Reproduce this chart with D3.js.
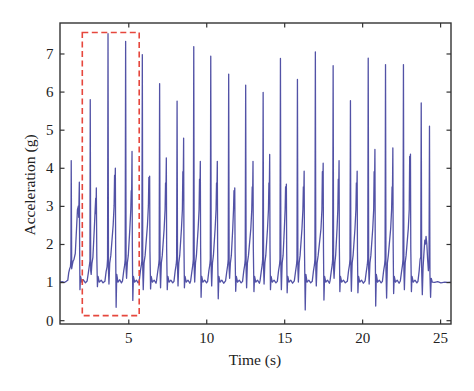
<!DOCTYPE html>
<html>
<head>
<meta charset="utf-8">
<script src="https://cdn.jsdelivr.net/npm/d3@7/dist/d3.min.js"></script>
<style>
  html, body { margin: 0; padding: 0; background: #fff; }
  svg { display: block; }
  text { font-family: "Liberation Serif", "Times New Roman", serif; fill: #222; }
</style>
</head>
<body>
<svg id="chart" width="474" height="391"></svg>
<script>
// ---- data ----
const xTicks = [5, 10, 15, 20, 25];
const yTicks = [0, 1, 2, 3, 4, 5, 6, 7];
const xDomain = [0.62, 25.7];
const yDomain = [-0.1, 7.8];
const xLabel = "Time (s)";
const yLabel = "Acceleration (g)";
// highlighted window (dashed red box): time range and acceleration range
const boxTime = [2.05, 5.70];
const boxAccel = [0.12, 7.55];

// acceleration signal: [time (s), acceleration (g)]
const signal = [
  [0.62,1.00],[0.75,1.01],[0.90,0.99],[1.02,1.02],[1.12,1.05],
  [1.18,1.25],[1.24,1.35],[1.29,1.40],[1.32,1.60],[1.34,4.19],[1.37,1.35],[1.41,1.45],[1.46,1.55],[1.52,1.60],[1.60,1.75],[1.68,2.40],[1.74,2.90],[1.80,3.00],[1.82,2.70],[1.86,3.62],[1.88,1.80],[1.90,0.80],[1.94,1.15],[2.02,1.00],[2.12,1.06],[2.25,0.98],
  [2.36,1.03],[2.44,1.25],[2.51,1.45],[2.54,1.55],[2.56,5.79],[2.59,1.30],[2.62,1.20],[2.67,1.50],[2.73,1.65],[2.82,2.40],[2.88,2.95],[2.91,3.20],[2.93,2.80],[2.95,3.47],[2.98,1.70],[3.02,0.88],[3.06,1.15],[3.14,1.00],[3.26,1.05],[3.38,0.98],
  [3.50,1.02],[3.58,1.28],[3.64,1.40],[3.67,1.60],[3.70,7.52],[3.73,1.30],[3.76,0.95],[3.81,1.50],[3.88,1.70],[4.03,2.50],[4.09,3.00],[4.12,3.80],[4.14,3.30],[4.17,3.99],[4.19,1.90],[4.22,0.34],[4.26,1.20],[4.34,1.00],[4.45,1.06],[4.56,0.98],
  [4.63,1.03],[4.71,1.30],[4.77,1.45],[4.80,1.60],[4.83,7.32],[4.86,1.35],[4.89,1.10],[4.94,1.50],[5.00,1.70],[5.10,2.40],[5.16,2.90],[5.19,3.40],[5.21,3.10],[5.24,4.43],[5.26,2.00],[5.29,0.52],[5.33,1.15],[5.41,1.00],[5.52,1.05],[5.63,0.98],
  [5.70,1.02],[5.78,1.30],[5.84,1.45],[5.87,1.55],[5.90,6.97],[5.93,1.30],[5.96,0.80],[6.01,1.50],[6.08,1.70],[6.23,2.50],[6.29,3.00],[6.32,3.75],[6.34,3.30],[6.37,3.78],[6.39,1.80],[6.43,0.82],[6.47,1.15],[6.55,1.00],[6.66,1.05],[6.78,0.97],
  [6.81,1.03],[6.89,1.28],[6.95,1.45],[6.98,1.60],[7.01,6.21],[7.04,1.30],[7.07,0.85],[7.12,1.50],[7.18,1.70],[7.30,2.40],[7.36,2.90],[7.39,3.60],[7.41,3.20],[7.44,4.26],[7.46,1.90],[7.50,0.80],[7.54,1.15],[7.62,1.00],[7.73,1.05],[7.85,0.98],
  [7.93,1.02],[8.01,1.30],[8.07,1.45],[8.10,1.60],[8.13,5.75],[8.16,1.35],[8.19,0.90],[8.24,1.50],[8.30,1.70],[8.41,2.40],[8.47,2.90],[8.50,3.90],[8.52,3.40],[8.55,4.78],[8.57,2.00],[8.60,0.85],[8.64,1.15],[8.72,1.00],[8.83,1.05],[8.95,0.97],
  [9.00,1.03],[9.08,1.28],[9.14,1.45],[9.17,1.60],[9.20,7.18],[9.23,1.35],[9.26,1.00],[9.31,1.50],[9.37,1.70],[9.48,2.40],[9.54,2.90],[9.57,3.70],[9.59,3.20],[9.62,4.17],[9.64,1.90],[9.67,0.60],[9.71,1.15],[9.79,1.00],[9.90,1.05],[10.02,0.98],
  [10.09,1.02],[10.17,1.30],[10.23,1.45],[10.26,1.60],[10.29,6.93],[10.32,1.30],[10.35,0.90],[10.40,1.50],[10.46,1.70],[10.57,2.40],[10.63,2.90],[10.66,3.60],[10.68,3.20],[10.71,4.17],[10.73,1.90],[10.77,0.56],[10.81,1.15],[10.89,1.00],[11.00,1.05],[11.12,0.97],
  [11.24,1.03],[11.32,1.28],[11.38,1.45],[11.41,1.60],[11.44,6.46],[11.47,1.35],[11.50,1.10],[11.55,1.50],[11.61,1.70],[11.70,2.40],[11.75,2.90],[11.78,3.40],[11.80,3.00],[11.83,3.47],[11.85,1.80],[11.89,0.76],[11.93,1.15],[12.01,1.00],[12.12,1.05],[12.24,0.98],
  [12.33,1.02],[12.41,1.30],[12.47,1.45],[12.50,1.60],[12.53,6.17],[12.56,1.30],[12.59,0.85],[12.64,1.50],[12.71,1.70],[12.86,2.40],[12.92,2.90],[12.95,3.50],[12.97,3.10],[13.00,4.17],[13.02,1.90],[13.06,0.75],[13.10,1.15],[13.18,1.00],[13.29,1.05],[13.41,0.97],
  [13.45,1.03],[13.53,1.28],[13.59,1.45],[13.62,1.60],[13.65,5.98],[13.68,1.35],[13.71,0.95],[13.76,1.50],[13.82,1.70],[13.93,2.40],[13.99,2.90],[14.02,3.60],[14.04,3.20],[14.07,4.35],[14.09,1.90],[14.12,0.80],[14.16,1.15],[14.24,1.00],[14.35,1.05],[14.47,0.98],
  [14.56,1.02],[14.64,1.30],[14.70,1.45],[14.73,1.60],[14.76,6.87],[14.79,1.30],[14.82,0.80],[14.87,1.50],[14.93,1.70],[15.01,2.40],[15.06,2.90],[15.09,3.50],[15.11,3.00],[15.14,3.57],[15.16,1.80],[15.19,0.72],[15.23,1.15],[15.31,1.00],[15.42,1.05],[15.54,0.97],
  [15.65,1.03],[15.73,1.28],[15.79,1.45],[15.82,1.60],[15.85,6.32],[15.88,1.35],[15.91,1.00],[15.96,1.50],[16.02,1.70],[16.14,2.40],[16.20,2.90],[16.23,3.50],[16.25,3.10],[16.28,3.91],[16.30,1.90],[16.35,0.27],[16.39,1.20],[16.47,1.00],[16.58,1.05],[16.70,0.98],
  [16.80,1.02],[16.88,1.30],[16.94,1.45],[16.97,1.60],[17.00,7.04],[17.03,1.30],[17.06,0.90],[17.11,1.50],[17.18,1.70],[17.36,2.40],[17.42,2.90],[17.45,3.90],[17.47,3.30],[17.50,4.12],[17.52,1.90],[17.55,0.53],[17.59,1.15],[17.67,1.00],[17.78,1.05],[17.90,0.97],
  [17.94,1.03],[18.02,1.28],[18.08,1.45],[18.11,1.60],[18.14,6.68],[18.17,1.35],[18.20,1.10],[18.25,1.50],[18.30,1.70],[18.39,2.40],[18.44,2.90],[18.47,3.70],[18.49,3.20],[18.52,4.19],[18.54,1.90],[18.57,0.75],[18.61,1.15],[18.69,1.00],[18.80,1.05],[18.92,0.98],
  [19.05,1.02],[19.13,1.30],[19.19,1.45],[19.22,1.60],[19.25,5.76],[19.28,1.30],[19.31,0.76],[19.36,1.50],[19.42,1.70],[19.54,2.40],[19.60,2.90],[19.63,3.60],[19.65,3.10],[19.68,3.91],[19.70,1.80],[19.73,0.72],[19.77,1.15],[19.85,1.00],[19.96,1.05],[20.08,0.97],
  [20.19,1.03],[20.27,1.28],[20.33,1.45],[20.36,1.60],[20.39,6.88],[20.42,1.35],[20.45,0.95],[20.50,1.50],[20.56,1.70],[20.68,2.40],[20.74,2.90],[20.77,3.90],[20.79,3.30],[20.82,4.48],[20.84,2.00],[20.87,0.37],[20.91,1.20],[20.99,1.00],[21.10,1.05],[21.22,0.98],
  [21.30,1.02],[21.38,1.30],[21.44,1.45],[21.47,1.60],[21.50,6.71],[21.53,1.30],[21.57,0.58],[21.62,1.50],[21.68,1.70],[21.83,2.40],[21.89,2.90],[21.92,3.50],[21.94,3.10],[21.97,4.52],[21.99,2.00],[22.02,0.70],[22.06,1.15],[22.14,1.00],[22.25,1.05],[22.37,0.97],
  [22.45,1.03],[22.53,1.28],[22.59,1.45],[22.62,1.60],[22.65,6.71],[22.68,1.30],[22.71,0.80],[22.76,1.50],[22.82,1.70],[22.96,2.40],[23.02,2.90],[23.05,4.30],[23.07,3.50],[23.10,4.36],[23.12,1.90],[23.16,0.75],[23.20,1.15],[23.28,1.00],[23.39,1.05],[23.51,0.98],
  [23.58,1.02],[23.66,1.30],[23.72,1.60],[23.76,1.65],[23.79,5.70],[23.82,1.30],[23.86,0.67],[23.91,1.40],[23.97,1.80],[24.02,2.10],[24.06,2.00],[24.10,2.20],[24.15,2.00],[24.20,1.60],[24.25,1.30],[24.29,1.50],[24.32,5.09],[24.35,1.20],[24.39,0.60],[24.43,1.10],[24.50,1.00],[24.65,0.99],[24.85,1.01],[25.05,0.98],[25.30,1.00],[25.50,0.99],[25.70,1.00]
];

// ---- drawing ----
const svg = d3.select("#chart");
const L = 60, R = 451, T = 23, B = 324;

const x = d3.scaleLinear().domain(xDomain).range([L, R]);
const y = d3.scaleLinear().domain(yDomain).range([B, T]);

// signal line
const line = d3.line().x(d => x(d[0])).y(d => y(d[1]));
svg.append("defs").append("clipPath").attr("id", "clip")
  .append("rect").attr("x", L).attr("y", T).attr("width", R - L).attr("height", B - T);

svg.append("path")
  .datum(signal)
  .attr("clip-path", "url(#clip)")
  .attr("fill", "none")
  .attr("stroke", "#5252a6")
  .attr("stroke-width", 1.3)
  .attr("stroke-linejoin", "round")
  .attr("d", line);

// dashed red box
svg.append("rect")
  .attr("x", x(boxTime[0]))
  .attr("y", y(boxAccel[1]))
  .attr("width", x(boxTime[1]) - x(boxTime[0]))
  .attr("height", y(boxAccel[0]) - y(boxAccel[1]))
  .attr("fill", "none")
  .attr("stroke", "#e6473d")
  .attr("stroke-width", 1.6)
  .attr("stroke-dasharray", "6,3.5");

// axes (MATLAB style: inward ticks on all four sides)
const tick = 4.5;
function styleAxis(g) {
  g.select(".domain").remove();
  g.selectAll(".tick line").attr("stroke", "#333").attr("stroke-width", 1.2);
  g.selectAll("text").attr("font-size", 15).attr("fill", "#222")
    .attr("font-family", '"Liberation Serif", "Times New Roman", serif');
}

svg.append("g").attr("transform", `translate(0,${B})`)
  .call(d3.axisBottom(x).tickValues(xTicks).tickSizeInner(-tick).tickSizeOuter(0).tickPadding(8).tickFormat(d3.format("d")))
  .call(styleAxis);
svg.append("g").attr("transform", `translate(0,${T})`)
  .call(d3.axisTop(x).tickValues(xTicks).tickSizeInner(-tick).tickSizeOuter(0).tickFormat(""))
  .call(styleAxis);
svg.append("g").attr("transform", `translate(${L},0)`)
  .call(d3.axisLeft(y).tickValues(yTicks).tickSizeInner(-tick).tickSizeOuter(0).tickPadding(6.5).tickFormat(d3.format("d")))
  .call(styleAxis);
svg.append("g").attr("transform", `translate(${R},0)`)
  .call(d3.axisRight(y).tickValues(yTicks).tickSizeInner(-tick).tickSizeOuter(0).tickFormat(""))
  .call(styleAxis);

// frame
svg.append("rect")
  .attr("x", L).attr("y", T).attr("width", R - L).attr("height", B - T)
  .attr("fill", "none").attr("stroke", "#333").attr("stroke-width", 1.4);

// axis titles
svg.append("text")
  .attr("x", 255).attr("y", 365)
  .attr("text-anchor", "middle").attr("font-size", 15.5)
  .text(xLabel);
svg.append("text")
  .attr("transform", "translate(35,185) rotate(-90)")
  .attr("text-anchor", "middle").attr("font-size", 15.5)
  .text(yLabel);
</script>
</body>
</html>
